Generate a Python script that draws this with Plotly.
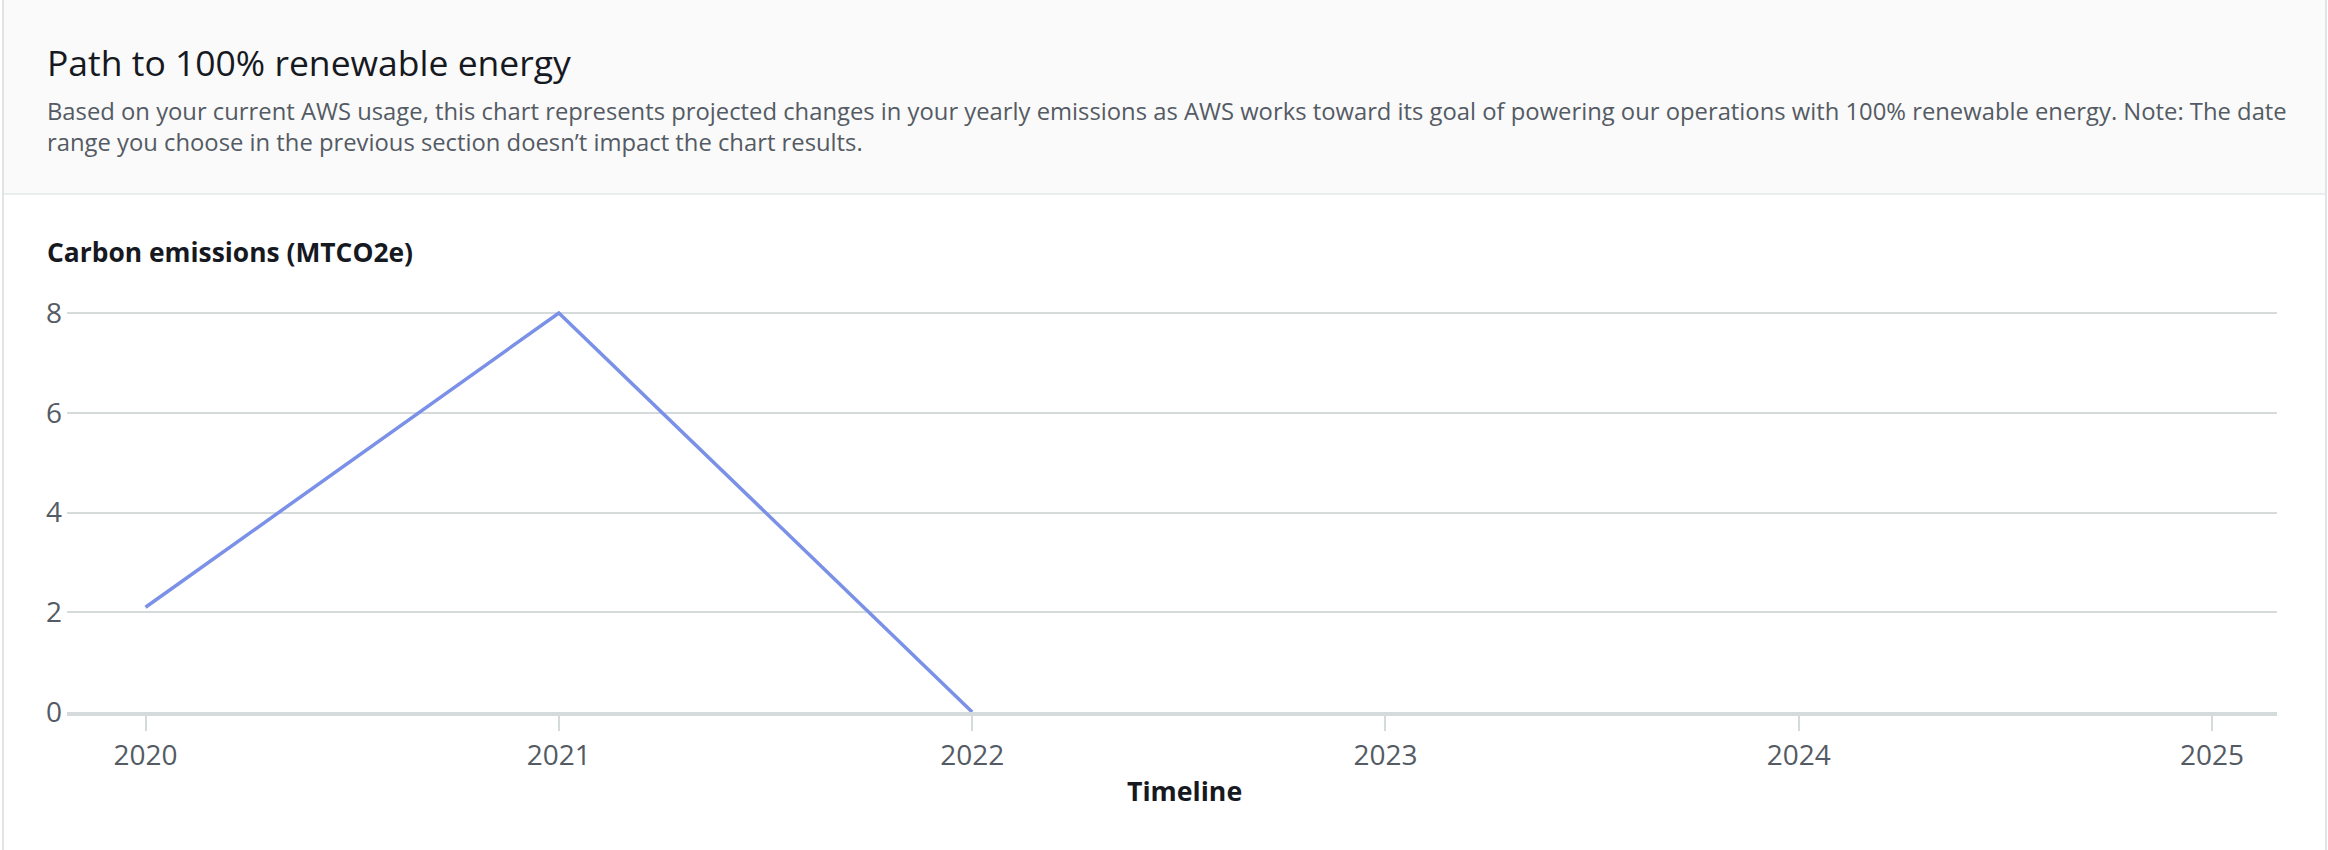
import plotly.graph_objects as go

# data
years = [2020, 2021, 2022]
emissions = [2.1, 8.0, 0.0]
year_ticks = [2020, 2021, 2022, 2023, 2024, 2025]
y_ticks = [0, 2, 4, 6, 8]

title = "Path to 100% renewable energy"
desc = ("Based on your current AWS usage, this chart represents projected changes in your yearly emissions "
        "as AWS works toward its goal of powering our operations with 100% renewable energy. Note: The date<br>"
        "range you choose in the previous section doesn\u2019t impact the chart results.")
y_label = "Carbon emissions (MTCO2e)"
x_label = "Timeline"

W, H = 2328, 850
L, R, T, B = 67, 2277, 311, 712  # plot area in pixels
Y_TOP = 8.04  # a bit above 8 so the top gridline is still drawn

def px(x):
    return (x - L) / (R - L)

def py(y):
    return (B - y) / (B - T)

FONT = "Open Sans"
DARK = "#16191f"
GREY = "#545b64"
GRID = "#d5dbdb"

fig = go.Figure()
fig.add_trace(go.Scatter(
    x=years, y=emissions, mode="lines",
    line=dict(color="#7b91e8", width=3.5),
    hovertemplate="%{x}: %{y} MTCO2e<extra></extra>",
))

shapes = [
    # header panel
    dict(type="rect", xref="paper", yref="paper", x0=px(3), x1=px(2326), y0=py(0), y1=py(193),
         fillcolor="#fafafa", line=dict(width=0), layer="below"),
    dict(type="line", xref="paper", yref="paper", x0=px(3), x1=px(2326), y0=py(194), y1=py(194),
         line=dict(color="#eaeded", width=2)),
    # card borders
    dict(type="line", xref="paper", yref="paper", x0=px(3), x1=px(3), y0=py(0), y1=py(850),
         line=dict(color="#e1e4e4", width=2)),
    dict(type="line", xref="paper", yref="paper", x0=px(2326), x1=px(2326), y0=py(0), y1=py(850),
         line=dict(color="#e1e4e4", width=2)),
]

annotations = [
    dict(text=title, x=px(45), y=py(62), xanchor="left", yanchor="middle",
         font=dict(family=FONT, size=35.5, color=DARK)),
    dict(text=desc, x=px(45), y=py(126), xanchor="left", yanchor="middle", align="left",
         font=dict(family=FONT, size=23.8, color=GREY)),
    dict(text="<b>" + y_label + "</b>", x=px(45), y=py(252), xanchor="left", yanchor="middle",
         font=dict(family=FONT, size=26.4, color=DARK)),
    dict(text="<b>" + x_label + "</b>", x=px(1184), y=py(790), xanchor="center", yanchor="middle",
         font=dict(family=FONT, size=26.7, color=DARK)),
]
for a in annotations:
    a.update(xref="paper", yref="paper", showarrow=False)

fig.update_layout(
    width=W, height=H,
    margin=dict(l=L, r=W - R, t=T, b=H - B),
    paper_bgcolor="white", plot_bgcolor="white",
    showlegend=False,
    shapes=shapes,
    annotations=annotations,
    xaxis=dict(
        range=[2019.81, 2025.157], tickvals=year_ticks, ticktext=[str(v) for v in year_ticks],
        showgrid=False, zeroline=False,
        showline=True, linecolor=GRID, linewidth=4,
        ticks="outside", ticklen=15, tickwidth=2, tickcolor=GRID,
        tickfont=dict(family=FONT, size=28, color=GREY),
    ),
    yaxis=dict(
        range=[0, Y_TOP], tickvals=y_ticks,
        showgrid=True, gridcolor=GRID, gridwidth=2,
        zeroline=False, showline=False, ticks="",
        ticklabelstandoff=4,
        tickfont=dict(family=FONT, size=28, color=GREY),
    ),
)

# page body has an 8px default margin; drop it so the figure fills the window
fig.write_html("out.html", config={"displayModeBar": False},
               post_script="document.body.style.margin='0';")
